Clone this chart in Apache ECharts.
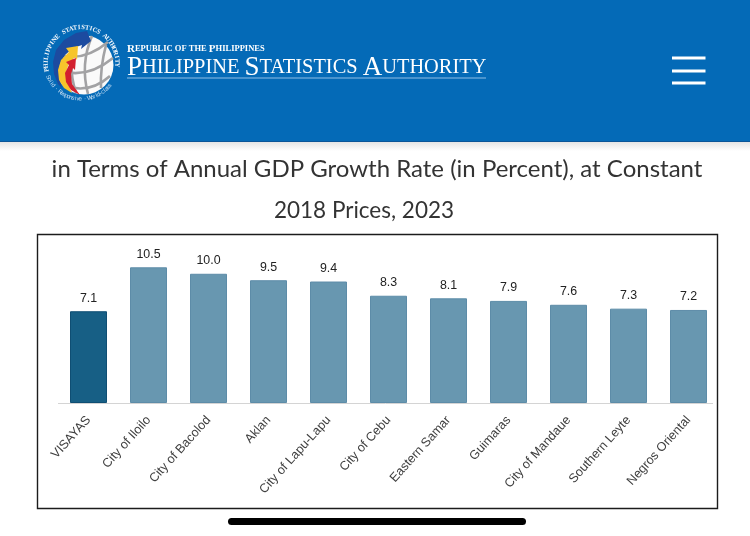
<!DOCTYPE html>
<html>
<head>
<meta charset="utf-8">
<style>html,body{margin:0;padding:0;background:#fff}#chart{width:750px;height:536px}</style>
<script src="https://cdn.jsdelivr.net/npm/echarts@6/dist/echarts.min.js"></script>
</head>
<body>
<div id="chart"></div>
<script>
// Annual GDP growth of Visayas provinces and highly urbanized cities
const categories = ['VISAYAS','City of Iloilo','City of Bacolod','Aklan','City of Lapu-Lapu','City of Cebu','Eastern Samar','Guimaras','City of Mandaue','Southern Leyte','Negros Oriental'];
const growthRates = [7.1,10.5,10.0,9.5,9.4,8.3,8.1,7.9,7.6,7.3,7.2];
const titleLines = ['in Terms of Annual GDP Growth Rate (in Percent), at Constant','2018 Prices, 2023'];
const ringText = 'PHILIPPINE STATISTICS AUTHORITY';
const mottoText = 'Solid · Responsive · World-class';

const serif = '"Liberation Serif", serif';
const blue = '#046ab7';

// Letters set around the emblem: step is the angle per letter, in radians
function ringLetters(text, cx, cy, r, start, step, size, color, flip) {
  return text.split('').map((ch, i) => {
    const a = start + i * step;
    return {
      type: 'text', silent: true,
      x: cx + r * Math.cos(a), y: cy + r * Math.sin(a),
      rotation: flip ? -(a - Math.PI / 2) : -(a + Math.PI / 2),
      style: { text: ch, fill: color, font: size, align: 'center', verticalAlign: 'middle' }
    };
  });
}

// Globe, swooshes and arrows of the emblem
const cx = 84, cy = 65;
const curve = (x1, y1, cpx1, cpy1, x2, y2) => ({
  type: 'bezierCurve', silent: true,
  shape: { x1, y1, cpx1, cpy1, x2, y2 },
  style: { fill: 'none', stroke: '#a2a2a4', lineWidth: 2.6 }
});
const shapeFill = (points, fill) => ({
  type: 'polygon', silent: true, shape: { points }, style: { fill }
});
const globeLines = [
  curve(60, 55, 84, 62, 108, 42),
  curve(58, 70, 86, 80, 113, 58),
  curve(66, 86, 90, 94, 110, 76),
  curve(78, 37, 66, 62, 76, 93),
  curve(92, 36, 80, 64, 88, 94),
  curve(106, 45, 100, 68, 101, 88)
];

const emblem = [
  { type: 'circle', silent: true, shape: { cx: cx, cy: cy, r: 29.5 }, style: { fill: '#fafafa' } },
  ...globeLines,
  // blue swoosh
  shapeFill([[87, 31], [76, 33], [64, 40], [56, 50], [53, 62], [54, 74], [58, 84], [62, 88], [59, 76], [60, 64], [65, 55], [73, 48], [82, 45], [81, 49], [91, 41]], '#1c4ba0'),
  // yellow swoosh
  shapeFill([[78, 46], [66, 48], [69, 52], [61, 60], [58, 70], [59, 80], [64, 88], [72, 93], [67, 82], [66, 72], [69, 63], [75, 57], [77, 60]], '#f7c52b'),
  // red arrow
  shapeFill([[76, 58], [66, 62], [69, 65], [65, 73], [66, 82], [71, 90], [80, 95], [72, 84], [71, 74], [73, 68], [75, 70]], '#d3202f'),
  ...ringLetters(ringText, 81.5, 63, 35.5, 2.95, 0.113, 'bold 6.5px ' + serif, '#f4f8fc', false),
  ...ringLetters(mottoText, 81.5, 63, 36, 2.74, -0.0667, '6px "Liberation Sans", sans-serif', '#c4ddf2', true)
];

// Site header, page heading and frame drawn round the chart
const pageGraphics = [
  { type: 'rect', silent: true, z: -2, shape: { x: 0, y: 0, width: 750, height: 141 }, style: { fill: blue } },
  { type: 'rect', silent: true, z: -2, shape: { x: 0, y: 141, width: 750, height: 1 }, style: { fill: '#0a5598' } },
  { type: 'rect', silent: true, z: -2, shape: { x: 0, y: 142, width: 750, height: 9 },
    style: { fill: { type: 'linear', x: 0, y: 0, x2: 0, y2: 1, colorStops: [{ offset: 0, color: '#e4e4e4' }, { offset: 1, color: '#ffffff' }] } } },
  ...emblem,
  { type: 'text', silent: true, x: 127, y: 49,
    style: { text: '{a|R}{b|EPUBLIC OF THE }{a|P}{b|HILIPPINES}', fill: '#fff', verticalAlign: 'middle',
      rich: { a: { font: 'bold 11px ' + serif, fill: '#fff' }, b: { font: 'bold 8.5px ' + serif, fill: '#fff' } } } },
  { type: 'text', silent: true, x: 127, y: 67.5,
    style: { text: '{a|P}{b|HILIPPINE }{a|S}{b|TATISTICS }{a|A}{b|UTHORITY}', fill: '#fff', verticalAlign: 'middle',
      rich: { a: { font: '27px ' + serif, fill: '#fff' }, b: { font: '20.4px ' + serif, fill: '#fff' } } } },
  { type: 'rect', silent: true, shape: { x: 127, y: 77.5, width: 359, height: 1 }, style: { fill: '#8fbde6' } },
  // menu button
  ...[58, 71, 83].map(y => ({ type: 'rect', silent: true, shape: { x: 672, y: y - 1.5, width: 33.5, height: 3 }, style: { fill: '#fff' } })),
  { type: 'text', silent: true, x: 377, y: 169,
    style: { text: titleLines[0], fill: '#333', font: '24px Lato, sans-serif', align: 'center', verticalAlign: 'middle' } },
  { type: 'text', silent: true, x: 364, y: 211,
    style: { text: titleLines[1], fill: '#333', font: '22.5px Lato, sans-serif', align: 'center', verticalAlign: 'middle' } },
  { type: 'rect', silent: true, z: -1, shape: { x: 37.5, y: 234.5, width: 680, height: 274 }, style: { fill: '#fff', stroke: '#1c1c1c', lineWidth: 1.4 } },
  // baseline stops short of the frame
  { type: 'line', silent: true, z: -1, shape: { x1: 58, y1: 403.5, x2: 713, y2: 403.5 }, style: { stroke: '#d4d4d4', lineWidth: 1 } },
  // home indicator
  { type: 'rect', silent: true, shape: { x: 228, y: 518, width: 298, height: 7, r: 3.5 }, style: { fill: '#000' } }
];

const chart = echarts.init(document.getElementById('chart'), null, { renderer: 'canvas' });
chart.setOption({
  animation: false,
  backgroundColor: '#fff',
  graphic: pageGraphics,
  grid: { left: 58.5, width: 660, top: 235, bottom: 133 },
  xAxis: {
    type: 'category',
    data: categories,
    axisTick: { show: false },
    axisLine: { show: false },
    axisLabel: { rotate: 48, interval: 0, margin: 15, color: '#404040', fontSize: 12.6, fontFamily: '"Liberation Sans", sans-serif' }
  },
  yAxis: { type: 'value', min: 0, max: 13, show: false, splitLine: { show: false } },
  series: [{
    type: 'bar',
    barWidth: 37,
    data: growthRates.map((v, i) => ({
      value: v,
      itemStyle: i === 0
        ? { color: '#175f85', borderColor: '#0f4e73', borderWidth: 1, borderRadius: 0, borderJoin: 'miter' }
        : { color: '#6897b0', borderColor: '#5d8ca8', borderWidth: 1, borderRadius: 0, borderJoin: 'miter' }
    })),
    label: {
      show: true, position: 'top', distance: 7, color: '#222',
      fontSize: 12.4, fontFamily: '"Liberation Sans", sans-serif',
      formatter: p => p.value.toFixed(1)
    }
  }]
});
</script>
</body>
</html>
